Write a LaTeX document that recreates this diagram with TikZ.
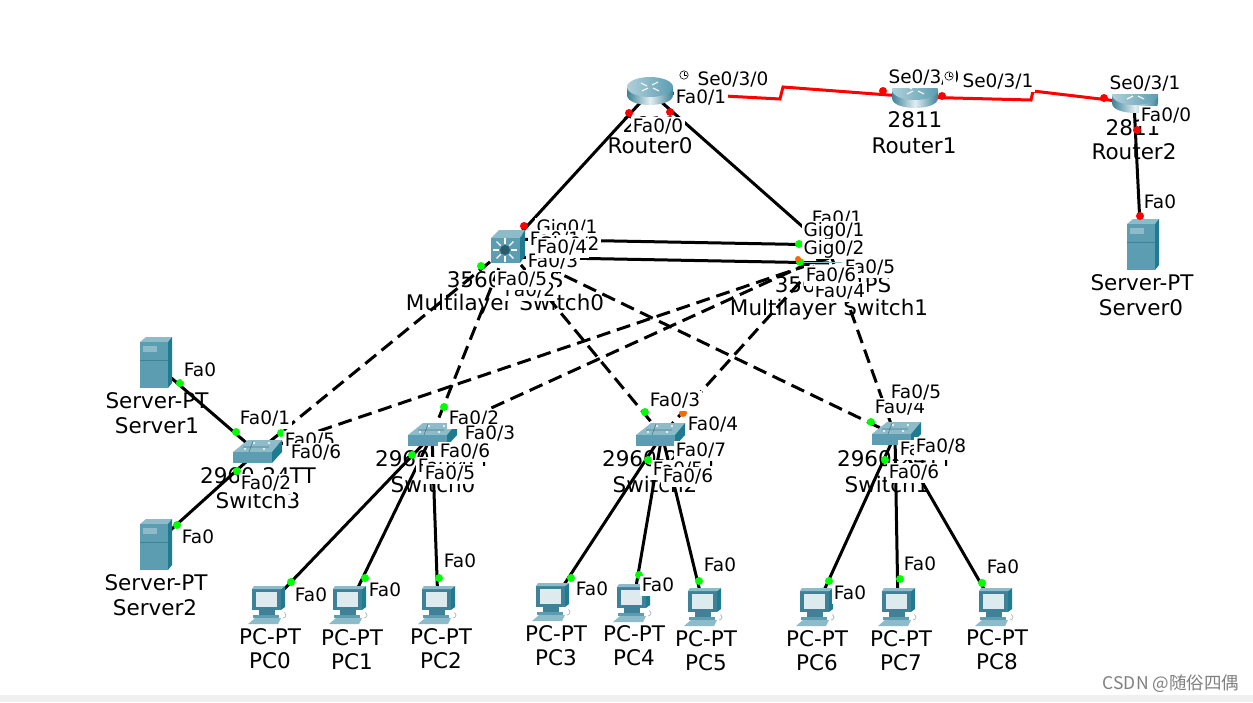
\documentclass[tikz,border=0pt]{standalone}
\usepackage{fontspec}
\setmainfont{DejaVu Sans}
\newfontfamily\cjkf{Noto Sans CJK SC}
\definecolor{teal1}{HTML}{5C9DB2}
\definecolor{teal2}{HTML}{8DBBC9}
\definecolor{teal3}{HTML}{1F7C90}
\definecolor{teal4}{HTML}{3F8298}
\tikzset{
 dev/.style={inner sep=0pt,minimum size=1pt},
 link/.style={line width=3pt,black},
 trunk/.style={line width=3pt,black,dash pattern=on 14pt off 7pt},
 serial/.style={line width=3pt,red},
 gd/.style={circle,fill=green,inner sep=0pt,minimum size=8pt},
 rd/.style={circle,fill=red,inner sep=0pt,minimum size=8pt},
 od/.style={circle,fill=orange!80!red,inner sep=0pt,minimum size=8pt},
 dname/.style={font=\fontsize{21.5}{24}\selectfont,inner sep=0pt,text=black},
 port/.style={font=\fontsize{18.5}{20}\selectfont,fill=white,inner xsep=1.5pt,inner ysep=1pt,text height=14pt,text depth=4pt,text=black},
}
\newcommand{\icRouter}[2]{\begin{scope}[shift={(#1,#2)}]
 \shade[left color=teal4,right color=teal4,middle color=white!75!teal2] (-23,-5) -- (-23,3) .. controls (-23,16.3) and (23,16.3) .. (23,3) -- (23,-5) -- cycle;
 \shade[left color=teal2!70!white,right color=teal1] (0,-5) ellipse[x radius=23,y radius=10];
 \draw[white,line width=1.1pt] (-9,-9) -- (-3,-6) (9,-1) -- (3,-4) (-8,-1) -- (-2,-4) (8,-10) -- (2,-7);
\end{scope}}
\newcommand{\icSwitch}[2]{\begin{scope}[shift={(#1,#2)}]
 \fill[teal2] (-24,0) -- (-9,-12) -- (25,-12) -- (15,0) -- cycle;
 \fill[teal1] (-24,0) rectangle (15,11);
 \fill[teal3] (15,0) -- (25,-12) -- (25,0) -- (15,11) -- cycle;
 \fill[white] (-12,-3) circle (1.2) (-3,-9) circle (1.2) (7,-3) circle (1.2) (12,-9) circle (1.2);
 \draw[teal1!80!black,line width=.6pt] (-14,-5) -- (12,-5) (-4,-11) -- (-8,0);
\end{scope}}
\newcommand{\icMulti}[2]{\begin{scope}[shift={(#1,#2)}]
 \fill[teal2] (-16,-10) -- (-8,-18) -- (18,-18) -- (13,-10) -- cycle;
 \fill[teal1] (-16,-10) rectangle (13,15);
 \fill[teal3] (13,-10) -- (18,-18) -- (18,8) -- (13,15) -- cycle;
 \foreach \a in {0,45,...,315}{\draw[white,line width=1.2pt] (-2,2)++(\a:6) -- ++(\a:6);}
 \fill[teal4!70!black] (-2,2) circle (5);
\end{scope}}
\newcommand{\icServer}[2]{\begin{scope}[shift={(#1,#2)}]
 \fill[teal2] (-14,-21) -- (-8,-26) -- (18,-26) -- (14,-21) -- cycle;
 \fill[teal1] (-14,-21) rectangle (14,25);
 \fill[teal3] (14,-21) -- (18,-26) -- (18,20) -- (14,25) -- cycle;
 \fill[teal2] (-11,-17) rectangle (3,-11);
 \draw[teal4,line width=.7pt] (-14,-3) -- (14,-3);
\end{scope}}
\newcommand{\icPC}[2]{\begin{scope}[shift={(#1,#2)}]
 \fill[teal4] (-16,-17) rectangle (13,4);
 \fill[teal3] (13,-17) -- (17,-20) -- (17,1) -- (13,4) -- cycle;
 \fill[teal2] (-14,-20) -- (17,-20) -- (13,-17) -- (-16,-17) -- cycle;
 \fill[white!70!teal2] (-12,-14) rectangle (9,1);
 \fill[teal4] (-9,4) rectangle (7,9);
 \fill[teal1] (-15,9) rectangle (11,12);
 \fill[teal2] (-20,18) -- (-13,12) -- (13,12) -- (10,18) -- cycle;
 \draw[gray!60,line width=.7pt] (15,12) arc[start angle=90,end angle=-60,radius=3];
\end{scope}}
\newcommand{\icClock}[2]{\begin{scope}[shift={(#1,#2)}]
 \fill[white] (-6,-8) rectangle (7,14);
 \draw[black,line width=.6pt] (0,0) circle (4.2);
 \draw[black,line width=.6pt] (0,-3) -- (0,0) -- (2.5,0);
\end{scope}}
\begin{document}
\begin{tikzpicture}[x=1pt,y=-1pt]
\useasboundingbox (0,0) rectangle (1253,702);
\fill[white] (0,0) rectangle (1253,702);
\fill[black!6] (0,695) rectangle (1253,702);
\node[dev] (r0) at (650,92) {};
\node[dev] (r1) at (915,97) {};
\node[dev] (r2) at (1134,103) {};
\node[dev] (srv0) at (1141,245) {};
\node[dev] (ms0) at (507,248) {};
\node[dev] (ms1) at (829,250) {};
\node[dev] (srv1) at (154,363) {};
\node[dev] (srv2) at (154,545) {};
\node[dev] (sw3) at (257,452) {};
\node[dev] (sw0) at (432,435) {};
\node[dev] (sw2) at (662,435) {};
\node[dev] (sw1) at (895,435) {};
\node[dev] (pc0) at (268,606) {};
\node[dev] (pc1) at (349,606) {};
\node[dev] (pc2) at (438,606) {};
\node[dev] (pc3) at (552,603) {};
\node[dev] (pc4) at (633,604) {};
\node[dev] (pc5) at (704,608) {};
\node[dev] (pc6) at (816,608) {};
\node[dev] (pc7) at (898,608) {};
\node[dev] (pc8) at (995,608) {};
\coordinate (za) at (780,99);
\coordinate (zb) at (783,87);
\coordinate (zc) at (1031,100);
\coordinate (zd) at (1033,91);
\coordinate (gA0) at (507,239);
\coordinate (gB0) at (829,245);
\coordinate (gA1) at (507,257);
\coordinate (gB1) at (829,263);
\coordinate (ms1a) at (829,258);
\coordinate (ms1b) at (829,254);
% links
\draw[link] (r0) -- (ms0);
\draw[link] (r0) -- (ms1);
\draw[link] (gA0) -- (gB0);
\draw[link] (gA1) -- (gB1);
\draw[link] (r2) -- (srv0);
\draw[link] (srv1) -- (sw3);
\draw[link] (srv2) -- (sw3);
\foreach \d in {pc0,pc1,pc2}{\draw[link] (sw0) -- (\d);}
\foreach \d in {pc3,pc4,pc5}{\draw[link] (sw2) -- (\d);}
\foreach \d in {pc6,pc7,pc8}{\draw[link] (sw1) -- (\d);}
\draw[trunk] (ms0) -- (sw3);
\draw[trunk] (ms0) -- (sw0);
\draw[trunk] (ms0) -- (sw2);
\draw[trunk] (ms0) -- (sw1);
\draw[trunk] (ms1a) -- (sw3);
\draw[trunk] (ms1b) -- (sw0);
\draw[trunk] (ms1) -- (sw2);
\draw[trunk] (ms1) -- (sw1);
\draw[serial] (r0) -- (za) -- (zb) -- (r1);
\draw[serial] (r1) -- (zc) -- (zd) -- (r2);
% icons
\icRouter{650}{92}
\icRouter{915}{95}
\icRouter{1135}{100}
\icMulti{507}{248}
\icServer{1141}{245}
\icServer{154}{363}
\icServer{154}{545}
\icSwitch{257}{452}
\icSwitch{432}{435}
\icSwitch{660}{435}
\icSwitch{896}{434}
\icPC{268}{606}\icPC{349}{606}\icPC{438}{606}\icPC{552}{603}\icPC{633}{604}\icPC{704}{608}\icPC{816}{608}\icPC{898}{608}\icPC{995}{608}
% device names
\node[dname] (n1) at (650,125) {2811};
\node[dname] (n2) at (650,146) {Router0};
\node[dname] (n3) at (915,120) {2811};
\node[dname] (n4) at (914,146) {Router1};
\node[dname] (n5) at (1133,128) {2811};
\node[dname] (n6) at (1134,152) {Router2};
\node[dname] (n7) at (1142,283) {Server-PT};
\node[dname] (n8) at (1141,308) {Server0};
\node[dname] (n9) at (157,401) {Server-PT};
\node[dname] (n10) at (157,426) {Server1};
\node[dname] (n11) at (156,583) {Server-PT};
\node[dname] (n12) at (155,608) {Server2};
\node[dname] (n13) at (505,280) {3560-24PS};
\node[dname] (n14) at (505,305) {Multilayer Switch0};
\node[dname] (n15) at (833,285) {3560-24PS};
\node[dname] (n16) at (829,310) {Multilayer Switch1};
\node[dname] (n17) at (258,476) {2960-24TT};
\node[dname] (n18) at (258,500) {Switch3};
\node[dname] (n19) at (433,459) {2960-24TT};
\node[dname] (n20) at (433,484) {Switch0};
\node[dname] (n21) at (660,459) {2960-24TT};
\node[dname] (n22) at (655,484) {Switch2};
\node[dname] (n23) at (895,459) {2960-24TT};
\node[dname] (n24) at (887,484) {Switch1};
\foreach \n/\x/\y/\u in {0/270/637/PC0,1/352/638/PC1,2/441/637/PC2,3/556/634/PC3,4/634/634/PC4,5/706/639/PC5,6/817/639/PC6,7/901/639/PC7,8/997/638/PC8}{
 \node[dname] (pt\n) at (\x,\y) {PC-PT};
 \node[dname] (pn\n) at (\x,\y+24) {\u};
}
% port dots
\foreach \n/\x/\y in {a1/629/113,a2/670/112,a3/883/91,a4/942/96,a5/1104/98,a6/1137/130,a7/1140/216,a8/524/226}{\node[rd] (\n) at (\x,\y) {};}
\foreach \n/\x/\y in {b1/799/244,b2/800/262,b3/481/266,b4/180/383,b5/236/432,b6/281/433,b7/237/471,b8/177/525,b9/444/407,b10/412/455,b11/645/412,b12/648/460,b13/871/422,b14/885/460,c0/291/582,c1/365/578,c2/439/578,c3/571/578,c4/639/575,c5/699/581,c6/829/581,c7/900/579,c8/982/583}{\node[gd] (\n) at (\x,\y) {};}
\node[od] (o1) at (683,413) {};
\node[od,minimum size=6pt] (o2) at (798,259) {};
% port labels
\node[port] (p1) at (733,80) {Se0/3/0};
\node[port] (p2) at (701,98) {Fa0/1};
\node[port] (p3) at (658,127) {Fa0/0};
\node[port] (p4) at (924,78) {Se0/3/0};
\node[port] (p5) at (998,82) {Se0/3/1};
\node[port] (p6) at (1145,84) {Se0/3/1};
\node[port] (p7) at (1166,116) {Fa0/0};
\node[port] (p8) at (1160,203) {Fa0};
\node[port] (p9) at (567,228) {Gig0/1};
\node[port] (p42) at (555,240) {Fa0/1};
\node[port] (p10) at (569,245) {Gig0/2};
\node[port] (p11) at (553,262) {Fa0/3};
\node[port] (p12) at (562,248) {Fa0/4};
\node[port] (p13) at (530,291) {Fa0/2};
\node[port] (p14) at (522,280) {Fa0/5};
\node[port] (p15) at (837,219) {Fa0/1};
\node[port] (p16) at (834,231) {Gig0/1};
\node[port] (p17) at (834,249) {Gig0/2};
\node[port] (p18) at (870,268) {Fa0/5};
\node[port] (p19) at (840,292) {Fa0/4};
\node[port] (p20) at (831,276) {Fa0/6};
\draw[teal2,line width=.8pt] (b2) ++(4,0) -- ++(38,0);
\node[port] (p21) at (200,371) {Fa0};
\node[port] (p22) at (198,538) {Fa0};
\node[port] (p23) at (265,419) {Fa0/1};
\node[port] (p24) at (310,441) {Fa0/5};
\node[port] (p25) at (316,453) {Fa0/6};
\node[port] (p26) at (266,484) {Fa0/2};
\node[port] (p27) at (474,419) {Fa0/2};
\node[port] (p28) at (490,434) {Fa0/3};
\node[port] (p29) at (443,467) {Fa0/4};
\node[port] (p30) at (465,452) {Fa0/6};
\node[port] (p31) at (450,474) {Fa0/5};
\node[port] (p32) at (675,401) {Fa0/3};
\node[port] (p33) at (713,425) {Fa0/4};
\node[port] (p34) at (678,470) {Fa0/5};
\node[port] (p35) at (701,451) {Fa0/7};
\node[port] (p36) at (688,477) {Fa0/6};
\node[port] (p37) at (900,408) {Fa0/4};
\node[port] (p38) at (916,393) {Fa0/5};
\node[port] (p39) at (925,450) {Fa0/7};
\node[port] (p40) at (941,447) {Fa0/8};
\node[port] (p41) at (914,473) {Fa0/6};
\node[port] (f0) at (311,596) {Fa0};
\node[port] (f1) at (385,591) {Fa0};
\node[port] (f2) at (460,562) {Fa0};
\node[port] (f3) at (592,590) {Fa0};
\node[port] (f4) at (658,586) {Fa0};
\node[port] (f5) at (720,566) {Fa0};
\node[port] (f6) at (850,594) {Fa0};
\node[port] (f7) at (920,565) {Fa0};
\node[port] (f8) at (1003,568) {Fa0};
\icClock{684}{75}
\icClock{949}{76}
\node[font=\fontsize{17.5}{19}\selectfont\cjkf,text=black!50,inner sep=0pt] (wm) at (1171,684) {CSDN @随俗四偶};
\end{tikzpicture}
\end{document}
